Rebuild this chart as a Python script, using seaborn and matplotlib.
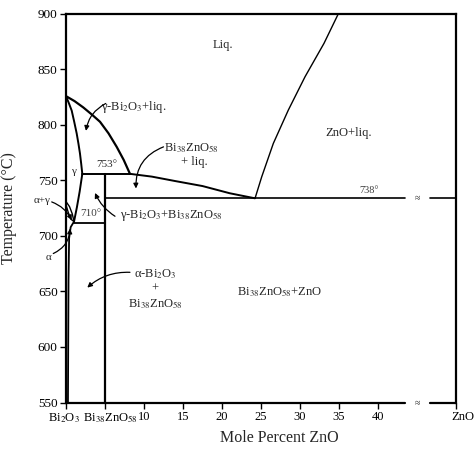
import matplotlib
matplotlib.use("Agg")
import matplotlib.pyplot as plt
from matplotlib.transforms import ScaledTranslation
import seaborn as sns

# phase boundaries (mole % ZnO, temperature in C)
liq_gamma_x = [0, 1.1, 2.22, 3.3, 4.36, 5.45, 6.5, 7.4, 8.2]
liq_gamma_t = [826, 821.5, 815.8, 809.5, 802.9, 792.5, 780.3, 768.5, 756]
sol_gamma_x = [0, 0.35, 0.73, 1.05, 1.37, 1.6, 1.79, 1.95, 2.09, 1.75, 1.4, 1.03]
sol_gamma_t = [826, 820, 813, 803, 792.4, 783, 774.4, 765, 756, 740, 726, 713]
peritectic_x = [2.09, 8.2]
peritectic_t = [756, 756]
liq_bi38_x = [8.2, 11, 14, 17.5, 21, 24.2]
liq_bi38_t = [756, 753.5, 749.5, 745, 738.5, 734]
liq_zno_x = [24.23, 25.09, 26.58, 28.5, 30.64, 33.08, 34.9]
liq_zno_t = [733.8, 753.3, 783.4, 813.4, 843.4, 873.6, 900]
lens_up_x = [0, 0.45, 0.8, 1.03]
lens_up_t = [731, 726.5, 720, 713]
lens_lo_x = [0, 0.3, 0.65, 1.03]
lens_lo_t = [728, 721, 715, 713]
alpha_x = [0.25, 0.32, 0.4, 0.6, 1.03]
alpha_t = [550, 660, 698, 708, 713]
eutectoid_x = [1.03, 5]
eutectoid_t = [712, 712]
compound_x = [5, 5]
compound_t = [550, 756]
eutectic_a_x = [5, 43.5]
eutectic_b_x = [46.7, 50]
eutectic_t = [734, 734]
bottom_a_x = [0, 43.5]
bottom_b_x = [46.7, 50]
bottom_t = [550, 550]

xticks = [0, 5, 10, 15, 20, 25, 30, 35, 40, 50]
xtick_labels = ["Bi$_2$O$_3$", "Bi$_{38}$ZnO$_{58}$", "10", "15", "20",
                "25", "30", "35", "40", "ZnO"]
yticks = [550, 600, 650, 700, 750, 800, 850, 900]

sns.set_style("ticks")
plt.rcParams["font.family"] = ["Liberation Serif", "DejaVu Serif"]
plt.rcParams["mathtext.fontset"] = "stix"

fig = plt.figure(figsize=(4.74, 4.51), dpi=100)
ax = fig.add_axes([66 / 474, 48.5 / 451, 390 / 474, 388.5 / 451])


def line(x, t, lw=1.5, clip=True):
    sns.lineplot(x=x, y=t, ax=ax, color="black", lw=lw, sort=False,
                 estimator=None, clip_on=clip)


line(liq_gamma_x, liq_gamma_t, 1.6)
line(sol_gamma_x, sol_gamma_t, 1.4)
line(peritectic_x, peritectic_t, 1.4)
line(liq_bi38_x, liq_bi38_t, 1.4)
line(liq_zno_x, liq_zno_t, 1.0)
line(lens_up_x, lens_up_t, 1.0)
line(lens_lo_x, lens_lo_t, 1.0)
line(alpha_x, alpha_t, 1.3)
line(eutectoid_x, eutectoid_t, 1.3)
line(compound_x, compound_t, 1.6)
line(eutectic_a_x, eutectic_t, 1.2)
line(eutectic_b_x, eutectic_t, 1.2)
line(bottom_a_x, bottom_t, 1.6, clip=False)
line(bottom_b_x, bottom_t, 1.6, clip=False)

ax.set_xlim(0, 50)
ax.set_ylim(550, 900)
ax.spines["bottom"].set_visible(False)
for s in ["left", "top", "right"]:
    ax.spines[s].set_linewidth(1.6)
    ax.spines[s].set_color("black")

ax.set_xticks(xticks)
ax.set_xticklabels(xtick_labels)
ax.set_yticks(yticks)
ax.tick_params(axis="both", labelsize=9.5, length=4, width=1, colors="black", pad=2)
ax.tick_params(axis="x", labelsize=9)
# nudge the end labels like the original
labels = ax.get_xticklabels()
for i, dx in [(0, -2), (1, 5), (9, 7)]:
    labels[i].set_transform(labels[i].get_transform() + ScaledTranslation(dx / 100, 0, fig.dpi_scale_trans))

ax.set_xlabel("Mole Percent ZnO", fontsize=11.5)
ax.set_ylabel("Temperature (°C)", fontsize=11.5)
ax.xaxis.set_label_coords(0.546, -0.07)
ax.yaxis.set_label_coords(-0.125, 0.5)

# region labels
fs = 9
ax.text(20.1, 872, "Liq.", fontsize=fs, ha="center", va="center")
ax.text(36.3, 792.7, "ZnO+liq.", fontsize=fs, ha="center", va="center")
ax.text(38.8, 740.6, "738°", fontsize=7.5, ha="center", va="center", color="0.25")
ax.text(45, 734, "≈", fontsize=7, ha="center", va="center")
ax.text(45, 550, "≈", fontsize=7, ha="center", va="center")
ax.text(27.4, 649.3, "Bi$_{38}$ZnO$_{58}$+ZnO", fontsize=fs, ha="center", va="center")
ax.text(4.5, 816, "γ-Bi$_2$O$_3$+liq.", fontsize=fs, ha="left", va="center")
ax.text(16.1, 779, "Bi$_{38}$ZnO$_{58}$", fontsize=fs, ha="center", va="center")
ax.text(16.4, 767, "+ liq.", fontsize=fs, ha="center", va="center")
ax.text(5.2, 764, "753°", fontsize=8, ha="center", va="center")
ax.text(0.94, 758, "γ", fontsize=8, ha="center", va="center")
ax.text(3.2, 720.2, "710°", fontsize=8, ha="center", va="center", color="0.25")
ax.text(6.92, 718.7, "γ-Bi$_2$O$_3$+Bi$_{38}$ZnO$_{58}$", fontsize=fs, ha="left", va="center")
ax.text(11.4, 666, "α-Bi$_2$O$_3$", fontsize=fs, ha="center", va="center")
ax.text(11.4, 652.6, "+", fontsize=fs, ha="center", va="center")
ax.text(11.4, 639, "Bi$_{38}$ZnO$_{58}$", fontsize=fs, ha="center", va="center")
ax.text(-3.1, 732, "α+γ", fontsize=8, ha="center", va="center", clip_on=False)
ax.text(-2.3, 681, "α", fontsize=8, ha="center", va="center", clip_on=False)

arrow = dict(arrowstyle="-|>", color="black", lw=0.9, mutation_scale=7,
             shrinkA=0, shrinkB=0)
arrows = [
    ((5.1, 819.4), (2.56, 794.7), 0.25),
    ((12.5, 780.3), (8.97, 742.8), 0.35),
    ((6.28, 717.8), (3.72, 738.8), -0.15),
    ((8.2, 667.3), (2.73, 653.5), 0.2),
    ((-1.83, 730.7), (0.73, 714.2), -0.2),
    ((-1.63, 684.2), (0.51, 706.7), 0.3),
]
for start, tip, rad in arrows:
    ax.annotate("", xy=tip, xytext=start, annotation_clip=False,
                arrowprops=dict(arrow, connectionstyle=f"arc3,rad={rad}"))

fig.savefig("out.png", dpi=100)
